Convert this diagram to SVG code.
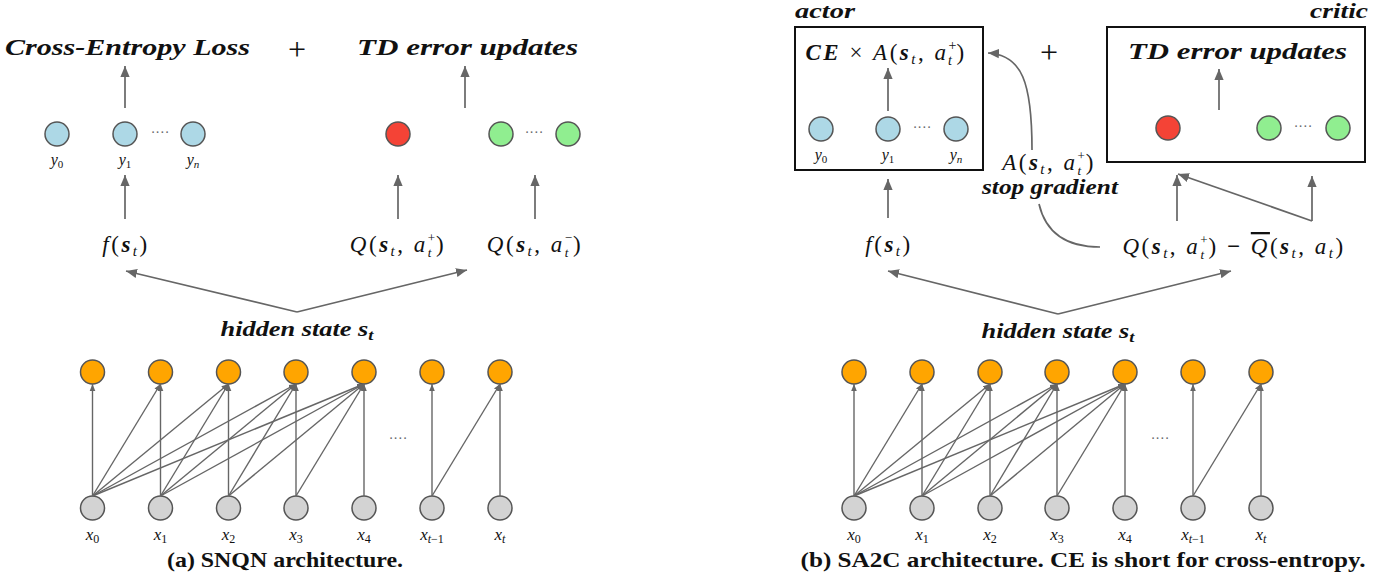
<svg xmlns="http://www.w3.org/2000/svg" width="1373" height="579" viewBox="0 0 1373 579">
<defs>
<marker id="ah" viewBox="0 0 10 10" refX="10" refY="5" markerWidth="11" markerHeight="11" markerUnits="userSpaceOnUse" orient="auto"><path d="M0,0.8 L10,5 L0,9.2 z" fill="#666"/></marker>
<marker id="as" viewBox="0 0 10 10" refX="10" refY="5" markerWidth="7" markerHeight="7" markerUnits="userSpaceOnUse" orient="auto"><path d="M0,1 L10,5 L0,9 z" fill="#666"/></marker>
</defs>
<style>
text{font-family:"Liberation Serif",serif;fill:#111}
.ttl{font-weight:bold;font-style:italic;font-size:23px}
.m{font-size:23px;letter-spacing:2.5px}
.i{font-style:italic}
.bv{font-style:italic;font-weight:bold}
.lbl{font-size:16px;text-anchor:middle}
.xl{font-size:17px;text-anchor:middle}
.cap{font-weight:bold;font-size:22px;text-anchor:middle}
.dots{font-size:14px;fill:#666;text-anchor:middle}
.c{stroke:#555;stroke-width:1.5}
.blue{fill:#add8e6}.red{fill:#f44336}.green{fill:#90ee90}.org{fill:#ffa500}.gry{fill:#d3d3d3}
.a{stroke:#666;stroke-width:1.7;fill:none;marker-end:url(#ah)}
.n{stroke:#666;stroke-width:1.4;fill:none;marker-end:url(#as)}
.box{fill:none;stroke:#111;stroke-width:2}
</style>

<!-- ===== Panel (a) ===== -->
<g id="a-title-ce"><text class="ttl" x="5" y="55" textLength="245" lengthAdjust="spacingAndGlyphs">Cross-Entropy Loss</text></g>
<g id="a-plus"><text x="297" y="60" font-size="32" text-anchor="middle">+</text></g>
<g id="a-title-td"><text class="ttl" x="357" y="55" textLength="221" lengthAdjust="spacingAndGlyphs">TD error updates</text></g>

<g id="a-y0"><circle class="c blue" cx="57" cy="134" r="12"/><text class="lbl" x="57" y="165"><tspan class="i">y</tspan><tspan font-size="11" dy="3">0</tspan></text></g>
<g id="a-y1"><circle class="c blue" cx="125" cy="134" r="12"/><text class="lbl" x="125" y="165"><tspan class="i">y</tspan><tspan font-size="11" dy="3">1</tspan></text></g>
<g id="a-yn"><circle class="c blue" cx="193" cy="134" r="12"/><text class="lbl" x="193" y="165"><tspan class="i">y</tspan><tspan class="i" font-size="11" dy="3">n</tspan></text></g>
<text class="dots" x="160" y="137">····</text>
<g id="a-qpos"><circle class="c red" cx="398" cy="134" r="12"/></g>
<g id="a-qneg1"><circle class="c green" cx="501" cy="134" r="12"/></g>
<g id="a-qneg2"><circle class="c green" cx="568" cy="134" r="12"/></g>
<text class="dots" x="534" y="137">····</text>

<g id="a-f"><text class="m" x="126" y="252" text-anchor="middle"><tspan class="i">f</tspan>(<tspan class="bv">s</tspan><tspan class="i" font-size="15" dy="4">t</tspan><tspan dy="-4">)</tspan></text></g>
<g id="a-qp"><text class="m" x="398" y="252" text-anchor="middle"><tspan class="i">Q</tspan>(<tspan class="bv">s</tspan><tspan class="i" font-size="15" dy="4">t</tspan><tspan dy="-4">, </tspan><tspan class="i">a</tspan><tspan font-size="13" dy="-10">+</tspan><tspan class="i" font-size="13" dx="-9.8" dy="15">t</tspan><tspan dx="2" dy="-5">)</tspan></text></g>
<g id="a-qn"><text class="m" x="535" y="252" text-anchor="middle"><tspan class="i">Q</tspan>(<tspan class="bv">s</tspan><tspan class="i" font-size="15" dy="4">t</tspan><tspan dy="-4">, </tspan><tspan class="i">a</tspan><tspan font-size="13" dy="-10">−</tspan><tspan class="i" font-size="13" dx="-9.8" dy="15">t</tspan><tspan dx="2" dy="-5">)</tspan></text></g>

<g id="a-hidden"><text x="297" y="336" font-size="20" text-anchor="middle" class="bv" textLength="153" lengthAdjust="spacingAndGlyphs">hidden state s<tspan font-size="14" dy="4">t</tspan></text></g>

<g id="a-h0"><circle class="c org" cx="92.5" cy="372" r="12"/></g>
<g id="a-h1"><circle class="c org" cx="160.5" cy="372" r="12"/></g>
<g id="a-h2"><circle class="c org" cx="228.5" cy="372" r="12"/></g>
<g id="a-h3"><circle class="c org" cx="296" cy="372" r="12"/></g>
<g id="a-h4"><circle class="c org" cx="364" cy="372" r="12"/></g>
<g id="a-h5"><circle class="c org" cx="432" cy="372" r="12"/></g>
<g id="a-h6"><circle class="c org" cx="500" cy="372" r="12"/></g>
<text class="dots" x="398" y="443">····</text>
<g id="a-x0"><circle class="c gry" cx="92.5" cy="508" r="12"/><text class="xl" x="92.5" y="540"><tspan class="i">x</tspan><tspan font-size="12" dy="3">0</tspan></text></g>
<g id="a-x1"><circle class="c gry" cx="160.5" cy="508" r="12"/><text class="xl" x="160.5" y="540"><tspan class="i">x</tspan><tspan font-size="12" dy="3">1</tspan></text></g>
<g id="a-x2"><circle class="c gry" cx="228.5" cy="508" r="12"/><text class="xl" x="228.5" y="540"><tspan class="i">x</tspan><tspan font-size="12" dy="3">2</tspan></text></g>
<g id="a-x3"><circle class="c gry" cx="296" cy="508" r="12"/><text class="xl" x="296" y="540"><tspan class="i">x</tspan><tspan font-size="12" dy="3">3</tspan></text></g>
<g id="a-x4"><circle class="c gry" cx="364" cy="508" r="12"/><text class="xl" x="364" y="540"><tspan class="i">x</tspan><tspan font-size="12" dy="3">4</tspan></text></g>
<g id="a-x5"><circle class="c gry" cx="432" cy="508" r="12"/><text class="xl" x="432" y="540"><tspan class="i">x</tspan><tspan font-size="12" dy="3"><tspan class="i">t</tspan>−1</tspan></text></g>
<g id="a-x6"><circle class="c gry" cx="500" cy="508" r="12"/><text class="xl" x="500" y="540"><tspan class="i">x</tspan><tspan class="i" font-size="12" dy="3">t</tspan></text></g>

<g id="a-caption"><text class="cap" x="285" y="567" textLength="236" lengthAdjust="spacingAndGlyphs">(a) SNQN architecture.</text></g>

<!-- ===== Panel (b) ===== -->
<g id="b-actor-label"><text x="795" y="18" font-size="22" class="bv" textLength="60" lengthAdjust="spacingAndGlyphs">actor</text></g>
<g id="b-critic-label"><text x="1310" y="18" font-size="22" class="bv" textLength="58" lengthAdjust="spacingAndGlyphs">critic</text></g>

<g id="b-actor">
<rect class="box" x="795" y="27" width="188" height="143"/>
<text class="m" x="886" y="60" font-size="24" letter-spacing="3" text-anchor="middle"><tspan class="bv">CE</tspan> × <tspan class="i">A</tspan>(<tspan class="bv">s</tspan><tspan class="i" font-size="15" dy="4">t</tspan><tspan dy="-4">, </tspan><tspan class="i">a</tspan><tspan font-size="14" dy="-10">+</tspan><tspan class="i" font-size="14" dx="-10.9" dy="15">t</tspan><tspan dx="2" dy="-5">)</tspan></text>
</g>
<g id="b-y0"><circle class="c blue" cx="821" cy="129" r="12"/><text class="lbl" x="821" y="160"><tspan class="i">y</tspan><tspan font-size="11" dy="3">0</tspan></text></g>
<g id="b-y1"><circle class="c blue" cx="888" cy="129" r="12"/><text class="lbl" x="888" y="160"><tspan class="i">y</tspan><tspan font-size="11" dy="3">1</tspan></text></g>
<g id="b-yn"><circle class="c blue" cx="956" cy="129" r="12"/><text class="lbl" x="956" y="160"><tspan class="i">y</tspan><tspan class="i" font-size="11" dy="3">n</tspan></text></g>
<text class="dots" x="922" y="132">····</text>

<g id="b-plus"><text x="1049" y="63" font-size="32" text-anchor="middle">+</text></g>

<g id="b-critic">
<rect class="box" x="1107" y="27" width="258" height="135"/>
<text class="ttl" x="1128" y="59" textLength="219" lengthAdjust="spacingAndGlyphs">TD error updates</text>
</g>
<g id="b-qpos"><circle class="c red" cx="1168" cy="128" r="12"/></g>
<g id="b-qneg1"><circle class="c green" cx="1269" cy="128" r="12"/></g>
<g id="b-qneg2"><circle class="c green" cx="1338" cy="128" r="12"/></g>
<text class="dots" x="1303" y="131">····</text>

<g id="b-adv"><text class="m" x="1049" y="170" text-anchor="middle"><tspan class="i">A</tspan>(<tspan class="bv">s</tspan><tspan class="i" font-size="15" dy="4">t</tspan><tspan dy="-4">, </tspan><tspan class="i">a</tspan><tspan font-size="13" dy="-10">+</tspan><tspan class="i" font-size="13" dx="-9.8" dy="15">t</tspan><tspan dx="2" dy="-5">)</tspan></text>
<text x="1050" y="194" font-size="20" class="bv" text-anchor="middle" textLength="136" lengthAdjust="spacingAndGlyphs">stop gradient</text></g>

<g id="b-f"><text class="m" x="889" y="252" text-anchor="middle"><tspan class="i">f</tspan>(<tspan class="bv">s</tspan><tspan class="i" font-size="15" dy="4">t</tspan><tspan dy="-4">)</tspan></text></g>
<g id="b-td"><text class="m" x="1234" y="254" text-anchor="middle"><tspan class="i">Q</tspan>(<tspan class="bv">s</tspan><tspan class="i" font-size="15" dy="4">t</tspan><tspan dy="-4">, </tspan><tspan class="i">a</tspan><tspan font-size="13" dy="-10">+</tspan><tspan class="i" font-size="13" dx="-9.8" dy="15">t</tspan><tspan dx="2" dy="-5">) </tspan><tspan font-weight="bold">−</tspan> <tspan class="i" style="text-decoration:overline">Q</tspan>(<tspan class="bv">s</tspan><tspan class="i" font-size="15" dy="4">t</tspan><tspan dy="-4">, </tspan><tspan class="i">a</tspan><tspan class="i" font-size="15" dy="4">t</tspan><tspan dy="-4">)</tspan></text></g>

<g id="b-hidden"><text x="1058" y="338" font-size="20" text-anchor="middle" class="bv" textLength="153" lengthAdjust="spacingAndGlyphs">hidden state s<tspan font-size="14" dy="4">t</tspan></text></g>

<g id="b-h0"><circle class="c org" cx="854" cy="372" r="12"/></g>
<g id="b-h1"><circle class="c org" cx="922" cy="372" r="12"/></g>
<g id="b-h2"><circle class="c org" cx="990" cy="372" r="12"/></g>
<g id="b-h3"><circle class="c org" cx="1057" cy="372" r="12"/></g>
<g id="b-h4"><circle class="c org" cx="1125" cy="372" r="12"/></g>
<g id="b-h5"><circle class="c org" cx="1193" cy="372" r="12"/></g>
<g id="b-h6"><circle class="c org" cx="1261" cy="372" r="12"/></g>
<text class="dots" x="1160" y="443">····</text>
<g id="b-x0"><circle class="c gry" cx="854" cy="508" r="12"/><text class="xl" x="854" y="540"><tspan class="i">x</tspan><tspan font-size="12" dy="3">0</tspan></text></g>
<g id="b-x1"><circle class="c gry" cx="922" cy="508" r="12"/><text class="xl" x="922" y="540"><tspan class="i">x</tspan><tspan font-size="12" dy="3">1</tspan></text></g>
<g id="b-x2"><circle class="c gry" cx="990" cy="508" r="12"/><text class="xl" x="990" y="540"><tspan class="i">x</tspan><tspan font-size="12" dy="3">2</tspan></text></g>
<g id="b-x3"><circle class="c gry" cx="1057" cy="508" r="12"/><text class="xl" x="1057" y="540"><tspan class="i">x</tspan><tspan font-size="12" dy="3">3</tspan></text></g>
<g id="b-x4"><circle class="c gry" cx="1125" cy="508" r="12"/><text class="xl" x="1125" y="540"><tspan class="i">x</tspan><tspan font-size="12" dy="3">4</tspan></text></g>
<g id="b-x5"><circle class="c gry" cx="1193" cy="508" r="12"/><text class="xl" x="1193" y="540"><tspan class="i">x</tspan><tspan font-size="12" dy="3"><tspan class="i">t</tspan>−1</tspan></text></g>
<g id="b-x6"><circle class="c gry" cx="1261" cy="508" r="12"/><text class="xl" x="1261" y="540"><tspan class="i">x</tspan><tspan class="i" font-size="12" dy="3">t</tspan></text></g>

<g id="b-caption"><text class="cap" x="1083" y="567" textLength="565" lengthAdjust="spacingAndGlyphs">(b) SA2C architecture. CE is short for cross-entropy.</text></g>

<!-- ===== Connectors ===== -->
<g id="connectors">
<line class="a" x1="125" y1="108" x2="125" y2="66"/>
<line class="a" x1="465" y1="108" x2="465" y2="66"/>
<line class="a" x1="125" y1="219" x2="125" y2="175"/>
<line class="a" x1="398" y1="219" x2="398" y2="175"/>
<line class="a" x1="535" y1="219" x2="535" y2="175"/>
<polyline class="a" points="297,312 126,271"/>
<polyline class="a" points="297,312 467,270"/>
<line class="n" x1="92.5" y1="496" x2="92.5" y2="384"/>
<line class="n" x1="92.5" y1="496" x2="160.5" y2="384"/>
<line class="n" x1="92.5" y1="496" x2="228.5" y2="384"/>
<line class="n" x1="92.5" y1="496" x2="296" y2="384"/>
<line class="n" x1="92.5" y1="496" x2="364" y2="384"/>
<line class="n" x1="160.5" y1="496" x2="160.5" y2="384"/>
<line class="n" x1="160.5" y1="496" x2="228.5" y2="384"/>
<line class="n" x1="160.5" y1="496" x2="296" y2="384"/>
<line class="n" x1="160.5" y1="496" x2="364" y2="384"/>
<line class="n" x1="228.5" y1="496" x2="228.5" y2="384"/>
<line class="n" x1="228.5" y1="496" x2="296" y2="384"/>
<line class="n" x1="228.5" y1="496" x2="364" y2="384"/>
<line class="n" x1="296" y1="496" x2="296" y2="384"/>
<line class="n" x1="296" y1="496" x2="364" y2="384"/>
<line class="n" x1="364" y1="496" x2="364" y2="384"/>
<line class="n" x1="432" y1="496" x2="432" y2="384"/>
<line class="n" x1="432" y1="496" x2="500" y2="384"/>
<line class="n" x1="500" y1="496" x2="500" y2="384"/>
<line class="a" x1="888" y1="111" x2="888" y2="68"/>
<line class="a" x1="888" y1="218" x2="888" y2="179"/>
<path class="a" d="M1032,150 C1032,82 1022,55 988,53"/>
<path stroke="#666" stroke-width="1.7" fill="none" d="M1039,204 C1046,234 1068,247 1100,247"/>
<line class="a" x1="1219" y1="110" x2="1219" y2="69"/>
<line class="a" x1="1177" y1="221" x2="1177" y2="175"/>
<line class="a" x1="1312" y1="221" x2="1312" y2="176"/>
<line class="a" x1="1312" y1="221" x2="1178" y2="174"/>
<polyline class="a" points="1058,314 888,271"/>
<polyline class="a" points="1058,314 1231,271"/>
<line class="n" x1="854" y1="496" x2="854" y2="384"/>
<line class="n" x1="854" y1="496" x2="922" y2="384"/>
<line class="n" x1="854" y1="496" x2="990" y2="384"/>
<line class="n" x1="854" y1="496" x2="1057" y2="384"/>
<line class="n" x1="854" y1="496" x2="1125" y2="384"/>
<line class="n" x1="922" y1="496" x2="922" y2="384"/>
<line class="n" x1="922" y1="496" x2="990" y2="384"/>
<line class="n" x1="922" y1="496" x2="1057" y2="384"/>
<line class="n" x1="922" y1="496" x2="1125" y2="384"/>
<line class="n" x1="990" y1="496" x2="990" y2="384"/>
<line class="n" x1="990" y1="496" x2="1057" y2="384"/>
<line class="n" x1="990" y1="496" x2="1125" y2="384"/>
<line class="n" x1="1057" y1="496" x2="1057" y2="384"/>
<line class="n" x1="1057" y1="496" x2="1125" y2="384"/>
<line class="n" x1="1125" y1="496" x2="1125" y2="384"/>
<line class="n" x1="1193" y1="496" x2="1193" y2="384"/>
<line class="n" x1="1193" y1="496" x2="1261" y2="384"/>
<line class="n" x1="1261" y1="496" x2="1261" y2="384"/>
</g>
</svg>
